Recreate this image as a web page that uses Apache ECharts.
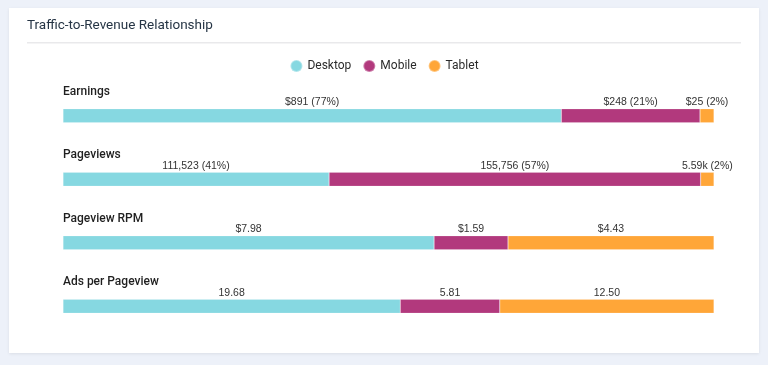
<!DOCTYPE html>
<html>
<head>
<meta charset="utf-8">
<script src="https://cdn.jsdelivr.net/npm/echarts@6/dist/echarts.min.js"></script>
<style>
html,body{margin:0;padding:0;background:#edf1f9;}
#chart{width:768px;height:365px;}
</style>
</head>
<body>
<div id="chart"></div>
<script>
const categories = ['Earnings', 'Pageviews', 'Pageview RPM', 'Ads per Pageview'];
const seriesNames = ['Desktop', 'Mobile', 'Tablet'];
const desktopValues = [891, 111523, 7.98, 19.68];
const mobileValues = [248, 155756, 1.59, 5.81];
const tabletValues = [25, 5590, 4.43, 12.50];
const desktopLabels = ['$891 (77%)', '111,523 (41%)', '$7.98', '19.68'];
const mobileLabels = ['$248 (21%)', '155,756 (57%)', '$1.59', '5.81'];
const tabletLabels = ['$25 (2%)', '5.59k (2%)', '$4.43', '12.50'];

const colors = ['#86d8e1', '#b2397d', '#ffa638'];
const raw = [desktopValues, mobileValues, tabletValues];
const labels = [desktopLabels, mobileLabels, tabletLabels];
const totals = categories.map((c, i) => desktopValues[i] + mobileValues[i] + tabletValues[i]);

const chart = echarts.init(document.getElementById('chart'), null, {renderer: 'canvas'});
chart.setOption({
  backgroundColor: '#edf1f9',
  animation: false,
  color: colors,
  graphic: [
    {type: 'rect', shape: {x: 9, y: 8, width: 750, height: 345},
     style: {fill: '#ffffff', shadowBlur: 3, shadowColor: 'rgba(0,0,0,0.08)', shadowOffsetY: 1}, z: -10},
    {type: 'text', x: 27, y: 19, style: {text: 'Traffic-to-Revenue Relationship', font: '400 13.5px Roboto', fill: '#263545'}},
    {type: 'rect', shape: {x: 27, y: 42, width: 714, height: 1.5}, style: {fill: '#e9e9eb'}}
  ],
  legend: {
    data: seriesNames,
    top: 54,
    left: 'center',
    icon: 'circle',
    itemWidth: 12,
    itemHeight: 12,
    itemGap: 11,
    textStyle: {fontFamily: 'Roboto', fontSize: 12, color: '#2b2b2b'}
  },
  grid: {left: 63, right: 54, top: 84, height: 254, containLabel: false},
  xAxis: {type: 'value', min: 0, max: 100, show: false},
  yAxis: {
    type: 'category',
    data: categories,
    inverse: true,
    z: 10,
    axisLine: {show: false},
    axisTick: {show: false},
    splitLine: {show: false},
    axisLabel: {
      inside: true,
      interval: 0,
      showMinLabel: true,
      showMaxLabel: true,
      hideOverlap: false,
      margin: 0,
      align: 'left',
      verticalAlign: 'middle',
      formatter: v => '{n|' + v + '}\n{s|}',
      rich: {
        n: {fontFamily: 'Roboto', fontSize: 12, fontWeight: 500, color: '#1f1f1f', height: 14, lineHeight: 14, align: 'left'},
        s: {height: 48, lineHeight: 48}
      }
    }
  },
  series: seriesNames.map((name, s) => ({
    name: name,
    type: 'bar',
    stack: 'total',
    barWidth: 14,
    itemStyle: {color: colors[s], borderColor: 'rgba(255,255,255,0.35)', borderWidth: 0.5},
    label: {
      show: true,
      position: 'top',
      distance: 1,
      fontFamily: 'Liberation Sans, Arial, sans-serif',
      fontSize: 10.5,
      color: '#333333',
      formatter: p => labels[s][p.dataIndex]
    },
    data: raw[s].map((v, i) => v / totals[i] * 100)
  }))
});
</script>
</body>
</html>
